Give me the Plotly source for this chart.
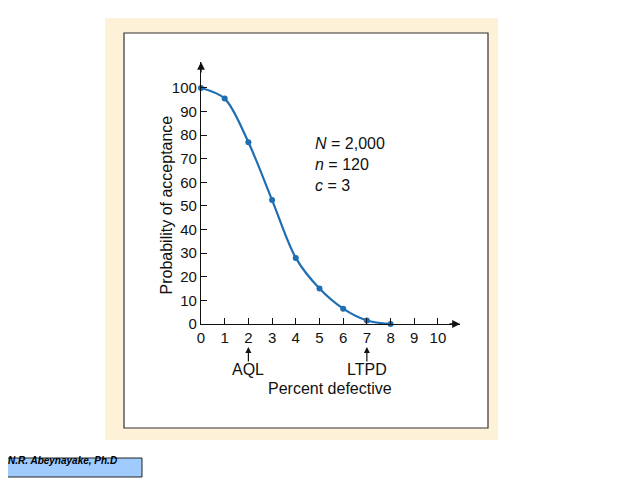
import plotly.graph_objects as go

pct_defective = [0, 1, 2, 3, 4, 5, 6, 7, 8]
prob_accept = [100, 95.5, 77, 52.5, 28, 15, 6.5, 1.5, 0]
x_ticks = list(range(0, 11))
y_ticks = list(range(0, 101, 10))

BLUE = "#1f6db3"
FONT = "Liberation Sans, Arial, sans-serif"

fig = go.Figure()
fig.add_trace(go.Scatter(x=pct_defective, y=prob_accept, mode="lines+markers",
                         line=dict(color=BLUE, width=2.2, shape="spline", smoothing=0.9),
                         marker=dict(color=BLUE, size=6), cliponaxis=False, showlegend=False))

def px2x(p): return (p - 201) / 259
def px2y(p): return (324 - p) / 262

shapes = [
    dict(type="rect", xref="paper", yref="paper", x0=px2x(105), x1=px2x(498), y0=px2y(440), y1=px2y(18),
         fillcolor="#fdf2d8", line=dict(width=0), layer="below"),
    dict(type="rect", xref="paper", yref="paper", x0=px2x(124), x1=px2x(488), y0=px2y(428), y1=px2y(33),
         fillcolor="white", line=dict(color="#333", width=1.2), layer="below"),
    dict(type="rect", xref="paper", yref="paper", x0=px2x(2), x1=px2x(142), y0=px2y(477), y1=px2y(458),
         fillcolor="#9fcbff", line=dict(color="#222", width=1), layer="below"),
]

ann = [
    dict(xref="paper", yref="paper", x=px2x(6), y=px2y(467.5), text="<b><i>N.R. Abeynayake, Ph.D</i></b>",
         showarrow=False, xanchor="left", font=dict(size=10, color="black")),
    dict(xref="paper", yref="paper", x=px2x(155), y=px2y(205), text="Probability of acceptance",
         textangle=-90, showarrow=False, font=dict(size=16, color="#111")),
    dict(xref="x", yref="paper", x=5.45, y=px2y(399), text="Percent defective",
         showarrow=False, font=dict(size=16, color="#111")),
    dict(xref="x", yref="paper", x=2, y=px2y(380), text="AQL", showarrow=False, font=dict(size=16, color="#111")),
    dict(xref="x", yref="paper", x=7, y=px2y(380), text="LTPD", showarrow=False, font=dict(size=16, color="#111")),
    dict(xref="x", yref="paper", x=2, y=px2y(347), ax=0, ay=16, text="", showarrow=True,
         arrowhead=2, arrowsize=1, arrowwidth=1.2, arrowcolor="#111"),
    dict(xref="x", yref="paper", x=7, y=px2y(347), ax=0, ay=16, text="", showarrow=True,
         arrowhead=2, arrowsize=1, arrowwidth=1.2, arrowcolor="#111"),
    dict(xref="paper", yref="paper", x=1.0, y=0, ax=-12, ay=0, text="", showarrow=True,
         arrowhead=2, arrowsize=1.2, arrowwidth=1.3, arrowcolor="#111"),
    dict(xref="paper", yref="paper", x=0, y=1.0, ax=0, ay=12, text="", showarrow=True,
         arrowhead=2, arrowsize=1.2, arrowwidth=1.3, arrowcolor="#111"),
    dict(xref="paper", yref="paper", x=px2x(313), y=px2y(164),
         text="<i>N</i> = 2,000<br><i>n</i> = 120<br><i>c</i> = 3", align="left",
         xanchor="left", showarrow=False, font=dict(size=16, color="#111")),
]

fig.update_layout(
    width=630, height=470, margin=dict(l=193, r=178, t=54, b=154),
    paper_bgcolor="white", plot_bgcolor="rgba(0,0,0,0)",
    font=dict(family=FONT, size=15, color="#111"),
    shapes=shapes, annotations=ann,
    xaxis=dict(range=[0, 10.93], tickvals=x_ticks, showgrid=False, zeroline=False,
               showline=True, linecolor="#111", linewidth=1.3, ticks="inside", ticklen=6,
               tickcolor="#111", tickfont=dict(size=15)),
    yaxis=dict(range=[0, 111], tickvals=y_ticks, showgrid=False, zeroline=False,
               showline=True, linecolor="#111", linewidth=1.3, ticks="inside", ticklen=6,
               tickcolor="#111", tickfont=dict(size=15)),
)
fig.write_html("out.html")
